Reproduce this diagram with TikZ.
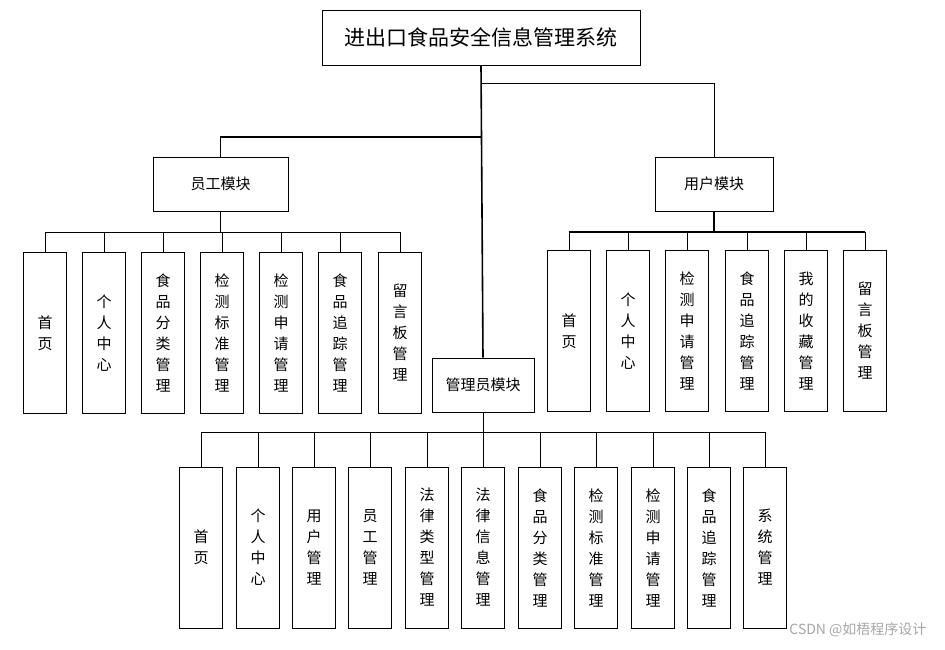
\documentclass[tikz,border=0pt]{standalone}
\usepackage{fontspec}
\newfontfamily\cjk{Noto Sans CJK SC}
\begin{document}
\begin{tikzpicture}[x=1pt,y=-1pt,
  box/.style={draw,thick,inner sep=0pt,font=\cjk\fontsize{15}{21}\selectfont},
  vbox/.style={box,minimum width=43pt,minimum height=161pt,align=center},
  ln/.style={line width=0.8pt},
  tk/.style={line width=1.6pt}]
\useasboundingbox (0,0) rectangle (945,649);
\node[box,minimum width=318pt,minimum height=55pt,font=\cjk\fontsize{21}{25}\selectfont] (top) at (481,37.5) {进出口食品安全信息管理系统};
\node[box,minimum width=135pt,minimum height=54pt] (emp) at (220.5,184) {员工模块};
\node[box,minimum width=118pt,minimum height=54pt] (usr) at (714,184) {用户模块};
\node[box,minimum width=102pt,minimum height=54pt] (adm) at (483,385) {管理员模块};
\draw[tk] (top.south) -- (adm.north);
\coordinate (j1) at (481,137);
\draw[tk] (emp.north) |- (j1);
\coordinate (j2) at (481,83);
\draw[ln] (usr.north) |- (j2);
% employee children
\foreach \i/\x/\t in {1/45/首\\页,2/104/个\\人\\中\\心,3/163/食\\品\\分\\类\\管\\理,4/222/检\\测\\标\\准\\管\\理,5/281/检\\测\\申\\请\\管\\理,6/340/食\\品\\追\\踪\\管\\理,7/400/留\\言\\板\\管\\理}{
  \node[vbox] (e\i) at (\x,333) {\t};
  \draw[ln] (e\i.north) -- (\x,232);
}
\draw[ln] (emp.south) -- (220.5,232);
\draw[ln] (e1.north |- 0,232) -- (e7.north |- 0,232);
% user children
\foreach \i/\x/\t in {1/569/首\\页,2/628/个\\人\\中\\心,3/687/检\\测\\申\\请\\管\\理,4/747/食\\品\\追\\踪\\管\\理,5/806/我\\的\\收\\藏\\管\\理,6/865/留\\言\\板\\管\\理}{
  \node[vbox] (u\i) at (\x,331) {\t};
  \draw[ln] (u\i.north) -- (\x,232);
}
\draw[tk] (usr.south) -- (714,232);
\draw[tk] (u1.north |- 0,232) -- (u6.north |- 0,232);
% admin children
\foreach \i/\x/\t in {1/201/首\\页,2/258/个\\人\\中\\心,3/314/用\\户\\管\\理,4/370/员\\工\\管\\理,5/427/法\\律\\类\\型\\管\\理,6/483/法\\律\\信\\息\\管\\理,7/540/食\\品\\分\\类\\管\\理,8/596/检\\测\\标\\准\\管\\理,9/653/检\\测\\申\\请\\管\\理,10/709/食\\品\\追\\踪\\管\\理,11/765/系\\统\\管\\理}{
  \node[vbox] (a\i) at (\x,547.5) {\t};
  \draw[ln] (a\i.north) -- (\x,432);
}
\draw[ln] (adm.south) -- (483,432);
\draw[ln] (a1.north |- 0,432) -- (a11.north |- 0,432);
\node[font=\cjk\fontsize{14}{16}\selectfont,text=gray!70,anchor=east] (wm) at (930,630) {CSDN @如梧程序设计};
\end{tikzpicture}
\end{document}
